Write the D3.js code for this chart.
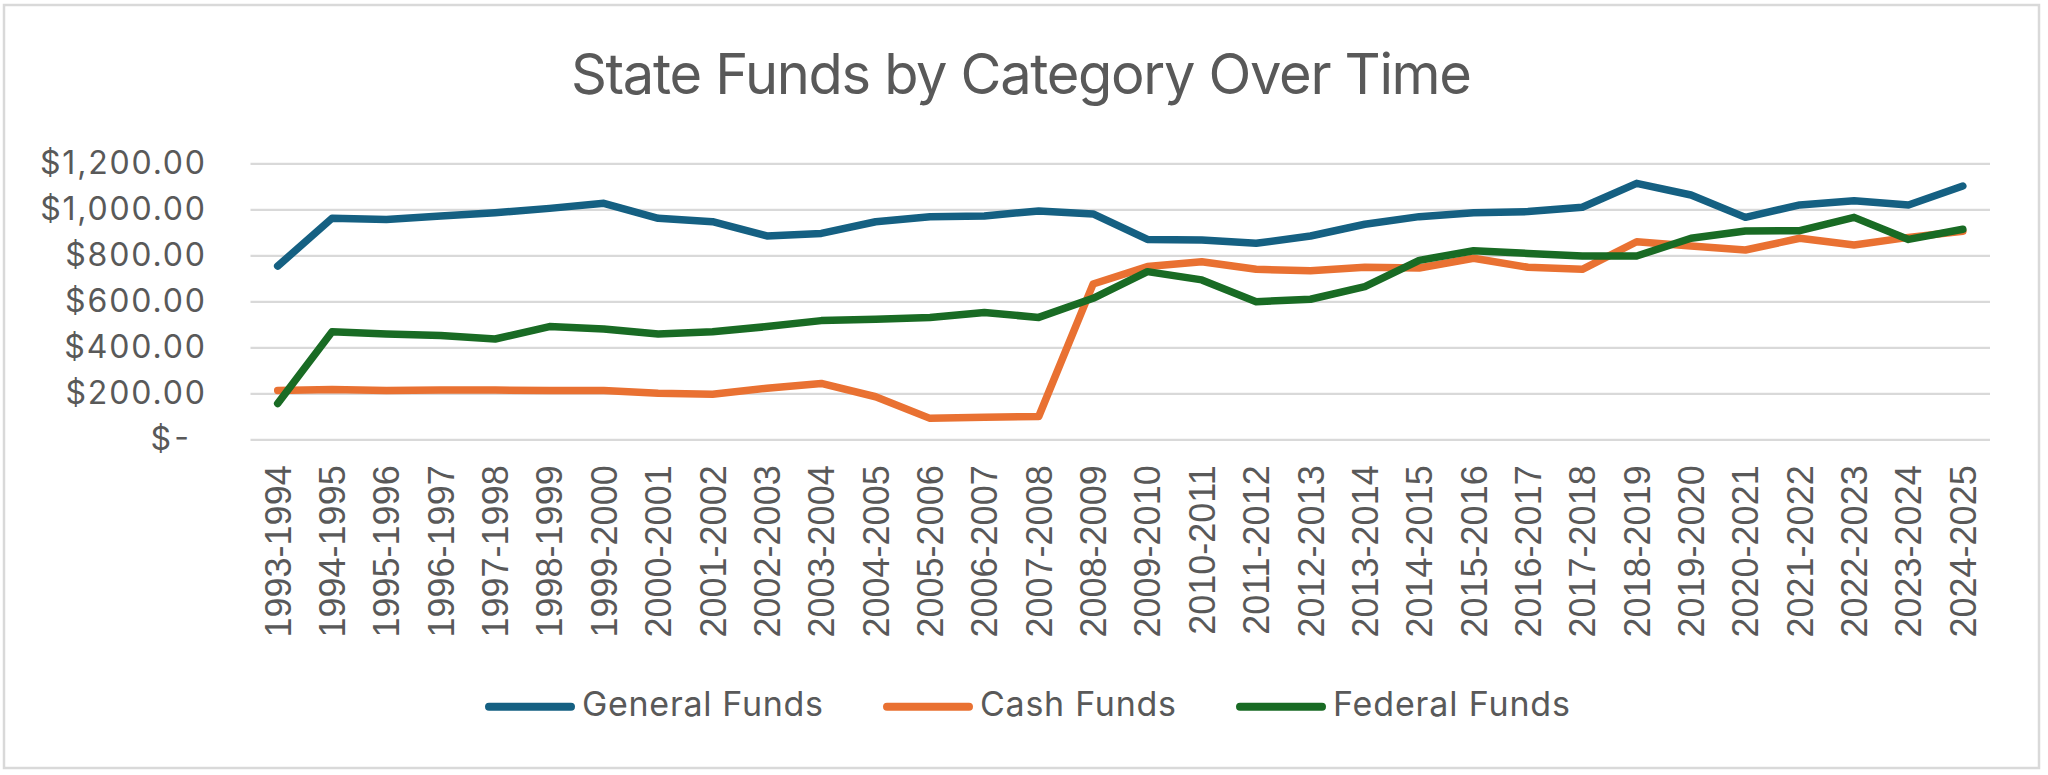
<!DOCTYPE html>
<html>
<head>
<meta charset="utf-8">
<script src="https://cdn.jsdelivr.net/npm/d3@7"></script>
<style>
html, body { margin: 0; padding: 0; background: #fff; }
svg { display: block; }
</style>
</head>
<body>
<div class="chart"></div>
<script>
const years = ["1993-1994","1994-1995","1995-1996","1996-1997","1997-1998","1998-1999","1999-2000","2000-2001",
  "2001-2002","2002-2003","2003-2004","2004-2005","2005-2006","2006-2007","2007-2008","2008-2009",
  "2009-2010","2010-2011","2011-2012","2012-2013","2013-2014","2014-2015","2015-2016","2016-2017",
  "2017-2018","2018-2019","2019-2020","2020-2021","2021-2022","2022-2023","2023-2024","2024-2025"];

const generalFunds = [753, 961, 956, 971, 985, 1004, 1026, 961, 946, 884, 895, 946, 968, 971, 993, 980,
  869, 867, 852, 884, 935, 968, 985, 990, 1009, 1113, 1062, 965, 1019, 1037, 1019, 1101];
const cashFunds = [212, 217, 212, 214, 214, 212, 212, 200, 196, 222, 243, 185, 91, 96, 99, 675,
  751, 772, 739, 733, 748, 745, 787, 748, 739, 859, 840, 823, 874, 845, 878, 905];
const federalFunds = [156, 468, 458, 451, 436, 490, 480, 458, 468, 490, 516, 522, 530, 551, 530, 613,
  729, 693, 598, 609, 664, 778, 820, 808, 797, 797, 874, 906, 907, 965, 869, 913];

const seriesNames = ["General Funds", "Cash Funds", "Federal Funds"];
const seriesColors = ["#156082", "#E97132", "#196B24"];
const yTicks = [0, 200, 400, 600, 800, 1000, 1200];

const w = 2048;
const h = 775;
const plotLeft = 250.5, plotRight = 1990, plotTop = 163.3, plotBottom = 439.3;
const textColor = "#595959";
const uiFont = "Inter, 'Noto Sans', sans-serif";
const tickFont = "'Liberation Sans', Arial, sans-serif";

const svg = d3.select('.chart')
  .append('svg')
  .attr('width', w)
  .attr('height', h);

svg.append('rect')
  .attr('x', 0).attr('y', 0).attr('width', w).attr('height', h)
  .attr('fill', '#fff');

svg.append('rect')
  .attr('x', 4).attr('y', 5)
  .attr('width', 2035).attr('height', 763)
  .attr('fill', '#fff')
  .attr('stroke', '#d9d9d9')
  .attr('stroke-width', 2.5);

// stretch letter spacing so a text hits the width seen in the reference
let fitWidth = (sel, target) => {
  sel.attr('textLength', target).attr('lengthAdjust', 'spacing');
};

// title
const title = svg.append('text')
  .text('State Funds by Category Over Time')
  .attr('x', 1021.5)
  .attr('y', 94)
  .attr('text-anchor', 'middle')
  .attr('font-family', uiFont)
  .attr('font-size', 56)
  .attr('fill', textColor);
fitWidth(title, 901);

// scales
const xScale = d3.scaleBand()
  .domain(years)
  .range([plotLeft, plotRight])
  .padding(0);
const bw = xScale.bandwidth();

const yScale = d3.scaleLinear()
  .domain([0, 1200])
  .range([plotBottom, plotTop]);

// y axis + gridlines
const yAxis = d3.axisLeft(yScale)
  .tickValues(yTicks)
  .tickSize(-(plotRight - plotLeft))
  .tickFormat(d => d === 0 ? '$-' : '$' + d3.format(',.2f')(d));

const gy = svg.append('g')
  .attr('transform', 'translate(' + plotLeft + ',0)')
  .call(yAxis);
gy.select('.domain').remove();
gy.selectAll('.tick line')
  .attr('stroke', '#d9d9d9')
  .attr('stroke-width', 2.2);
gy.selectAll('.tick text')
  .attr('font-family', uiFont)
  .attr('font-size', 32)
  .attr('fill', textColor)
  .attr('x', -45.5)
  .attr('dy', 10);

// measure widest label and spread the others by the same per-char spacing
const refText = gy.selectAll('.tick text').filter(d => d === 1200).node();
const extra = (165 - refText.getComputedTextLength()) / 9;
gy.selectAll('.tick text').each(function(d) {
  const t = d3.select(this);
  const len = this.getComputedTextLength();
  const n = t.text().length;
  t.attr('textLength', len + extra * n).attr('lengthAdjust', 'spacing');
  if (d === 0) t.attr('x', -61.5);
});

// x axis labels
const xAxis = d3.axisBottom(xScale).tickSize(0);
const gx = svg.append('g')
  .attr('transform', 'translate(0,' + plotBottom + ')')
  .call(xAxis);
gx.select('.domain').remove();
gx.selectAll('.tick text')
  .attr('font-family', tickFont)
  .attr('font-size', 36)
  .attr('fill', textColor)
  .attr('text-anchor', 'end')
  .attr('transform', 'rotate(-90)')
  .attr('x', -26)
  .attr('y', 13)
  .attr('dy', 0);

// lines
const seriesData = [generalFunds, cashFunds, federalFunds];
const line = d3.line()
  .x((d, i) => xScale(years[i]) + bw / 2)
  .y(d => yScale(d));

svg.selectAll('.series')
  .data(seriesData)
  .enter()
  .append('path')
  .attr('class', 'series')
  .attr('d', d => line(d))
  .attr('fill', 'none')
  .attr('stroke', (d, i) => seriesColors[i])
  .attr('stroke-width', 7.5)
  .attr('stroke-linejoin', 'round')
  .attr('stroke-linecap', 'round');

// legend
const legendTargets = [241, 196, 237];
let lx = 485;
seriesNames.forEach((name, i) => {
  const g = svg.append('g');
  g.append('line')
    .attr('x1', lx + 4).attr('x2', lx + 86)
    .attr('y1', 706.7).attr('y2', 706.7)
    .attr('stroke', seriesColors[i])
    .attr('stroke-width', 8)
    .attr('stroke-linecap', 'round');
  const t = g.append('text')
    .text(name)
    .attr('x', lx + 97)
    .attr('y', 716)
    .attr('font-family', uiFont)
    .attr('font-size', 34)
    .attr('fill', textColor);
  fitWidth(t, legendTargets[i]);
  lx += 97 + legendTargets[i] + 60;
});
</script>
</body>
</html>
